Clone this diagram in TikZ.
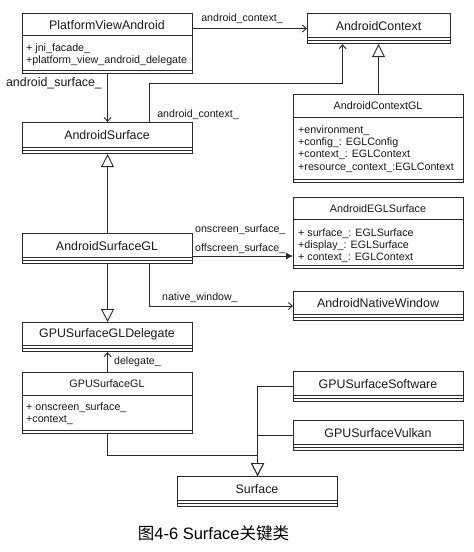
\documentclass[tikz,border=0pt]{standalone}
\usepackage{fontspec}
\setmainfont{Liberation Sans}
\newfontfamily\cjk{Noto Sans CJK SC}
\usetikzlibrary{arrows.meta}
\definecolor{ln}{HTML}{2A2A2A}
\definecolor{tx}{HTML}{1A1A1A}
\begin{document}
\begin{tikzpicture}[x=1pt,y=-1pt,
  cls/.style={draw=ln, line width=1.1pt, inner sep=0pt, anchor=north west, fill=white},
  sep/.style={draw=ln, line width=0.8pt},
  bigt/.style={text=tx, inner sep=0pt, font=\fontsize{12.4}{14}\selectfont},
  smt/.style={text=tx, inner sep=0pt, font=\fontsize{10.8}{13}\selectfont},
  attr/.style={text=tx, inner sep=0pt, anchor=west, align=left, font=\fontsize{10.7}{12.3}\selectfont},
  lbl/.style={text=tx, inner sep=0pt, font=\fontsize{10.6}{12}\selectfont},
  conn/.style={draw=ln, line width=0.9pt},
  assoc/.style={conn, -{Straight Barb[length=4pt,width=7pt,line width=0.9pt]}},
  comp/.style={conn, -{Latex[length=7pt,width=7pt]}},
  inherit/.style={conn, -{Triangle[open,length=13pt,width=13pt,fill=white,line width=0.9pt]}}
]
\useasboundingbox[fill=white] (0,0) rectangle (474,552);

% ---------- class boxes ----------
% PlatformViewAndroid
\node[cls, minimum width=170pt, minimum height=60pt] (pva) at (22,13) {};
\draw[sep] ([yshift=-22pt]pva.north west) -- ([yshift=-22pt]pva.north east);
\draw[sep] ([yshift=4pt]pva.south west) -- ([yshift=4pt]pva.south east);
\node[bigt] (pvat) at (107,25) {PlatformViewAndroid};
\node[attr] (pvaa) at (26,55) {+ jni\_facade\_\\+platform\_view\_android\_delegate};

% AndroidContext
\node[cls, minimum width=143pt, minimum height=30pt] (ac) at (307,13) {};
\draw[sep] ([yshift=7pt]ac.south west) -- ([yshift=7pt]ac.south east);
\draw[sep] ([yshift=3.5pt]ac.south west) -- ([yshift=3.5pt]ac.south east);
\node[bigt] (act) at (378.5,26) {AndroidContext};

% AndroidSurface
\node[cls, minimum width=170pt, minimum height=31pt] (as) at (22,122) {};
\draw[sep] ([yshift=7pt]as.south west) -- ([yshift=7pt]as.south east);
\draw[sep] ([yshift=3.5pt]as.south west) -- ([yshift=3.5pt]as.south east);
\node[bigt] (ast) at (107,135) {AndroidSurface};

% AndroidContextGL
\node[cls, minimum width=170pt, minimum height=88pt] (acgl) at (293,94) {};
\draw[sep] ([yshift=-23pt]acgl.north west) -- ([yshift=-23pt]acgl.north east);
\draw[sep] ([yshift=4pt]acgl.south west) -- ([yshift=4pt]acgl.south east);
\node[smt] (acglt) at (378,106) {AndroidContextGL};
\node[attr] (acgla) at (298,148.8) {+environment\_\\+config\_: EGLConfig\\+context\_: EGLContext\\+resource\_context\_:EGLContext};

% AndroidSurfaceGL
\node[cls, minimum width=170pt, minimum height=30pt] (asgl) at (22,233) {};
\draw[sep] ([yshift=7pt]asgl.south west) -- ([yshift=7pt]asgl.south east);
\draw[sep] ([yshift=3.5pt]asgl.south west) -- ([yshift=3.5pt]asgl.south east);
\node[bigt] (asglt) at (107,246) {AndroidSurfaceGL};

% AndroidEGLSurface
\node[cls, minimum width=170pt, minimum height=71pt] (egl) at (293,197) {};
\draw[sep] ([yshift=-22pt]egl.north west) -- ([yshift=-22pt]egl.north east);
\draw[sep] ([yshift=3.5pt]egl.south west) -- ([yshift=3.5pt]egl.south east);
\node[smt] (eglt) at (378,209) {AndroidEGLSurface};
\node[attr] (egla) at (298,245.5) {+ surface\_: EGLSurface\\+display\_: EGLSurface\\+ context\_: EGLContext};

% AndroidNativeWindow
\node[cls, minimum width=170pt, minimum height=29pt] (anw) at (293,291) {};
\draw[sep] ([yshift=7pt]anw.south west) -- ([yshift=7pt]anw.south east);
\draw[sep] ([yshift=3.5pt]anw.south west) -- ([yshift=3.5pt]anw.south east);
\node[bigt] (anwt) at (378,303) {AndroidNativeWindow};

% GPUSurfaceGLDelegate
\node[cls, minimum width=170pt, minimum height=29pt] (gd) at (22,322) {};
\draw[sep] ([yshift=7pt]gd.south west) -- ([yshift=7pt]gd.south east);
\draw[sep] ([yshift=3.5pt]gd.south west) -- ([yshift=3.5pt]gd.south east);
\node[bigt] (gdt) at (107,334) {GPUSurfaceGLDelegate};

% GPUSurfaceGL
\node[cls, minimum width=170pt, minimum height=61pt] (gsgl) at (22,372) {};
\draw[sep] ([yshift=-23pt]gsgl.north west) -- ([yshift=-23pt]gsgl.north east);
\draw[sep] ([yshift=4pt]gsgl.south west) -- ([yshift=4pt]gsgl.south east);
\node[smt] (gsglt) at (107,384) {GPUSurfaceGL};
\node[attr] (gsgla) at (26,413.5) {+ onscreen\_surface\_\\+context\_};

% GPUSurfaceSoftware
\node[cls, minimum width=170pt, minimum height=30pt] (gss) at (293,371) {};
\draw[sep] ([yshift=7pt]gss.south west) -- ([yshift=7pt]gss.south east);
\draw[sep] ([yshift=3.5pt]gss.south west) -- ([yshift=3.5pt]gss.south east);
\node[bigt] (gsst) at (378,384) {GPUSurfaceSoftware};

% GPUSurfaceVulkan
\node[cls, minimum width=170pt, minimum height=30pt] (gsv) at (293,420) {};
\draw[sep] ([yshift=7pt]gsv.south west) -- ([yshift=7pt]gsv.south east);
\draw[sep] ([yshift=3.5pt]gsv.south west) -- ([yshift=3.5pt]gsv.south east);
\node[bigt] (gsvt) at (378,433) {GPUSurfaceVulkan};

% Surface
\node[cls, minimum width=160pt, minimum height=30pt] (surf) at (177,476) {};
\draw[sep] ([yshift=7pt]surf.south west) -- ([yshift=7pt]surf.south east);
\draw[sep] ([yshift=3.5pt]surf.south west) -- ([yshift=3.5pt]surf.south east);
\node[bigt] (surft) at (257,489) {Surface};

% ---------- connectors ----------
\draw[assoc] (pva.east |- ac.west) -- (ac.west);
\node[lbl] (l1) at (242,19) {android\_context\_};

\draw[assoc] (pva.south) -- (as.north);
\node[text=tx, inner sep=0pt, font=\fontsize{12.4}{14}\selectfont] (l2) at (54,83) {android\_surface\_};

\draw[assoc] ([xshift=42pt]as.north) -- ++(0pt,39pt) -| ([xshift=-36.5pt]ac.south);
\node[lbl] (l3) at (198,115) {android\_context\_};

\draw[inherit] (acgl.north) -- (acgl.north |- ac.south);
\draw[inherit] (asgl.north) -- (as.south);

\draw[comp] ([yshift=-7.5pt]asgl.east) -- ([yshift=-7.5pt]asgl.east -| egl.west);
\node[lbl, anchor=west] (l4) at (195,230) {onscreen\_surface\_};
\node[lbl, anchor=west] (l5) at (195,249) {offscreen\_surface\_};

\draw[assoc] ([xshift=42pt]asgl.south) |- (anw.west);
\node[lbl, anchor=west] (l6) at (162,298) {native\_window\_};

\draw[inherit] (asgl.south) -- (gd.north);

\draw[assoc] (gsgl.north) -- (gd.south);
\node[lbl, anchor=west] (l7) at (114,362) {delegate\_};

\draw[inherit] (gsgl.south) -- ++(0pt,-21pt) -| (surf.north);
\draw[inherit] (gss.west) -| (surf.north);
\draw[inherit] (gsv.west) -| (surf.north);

% ---------- caption ----------
\node[text=black, inner sep=0pt, font=\fontsize{16.5}{18}\selectfont] (cap) at (213.5,533) {{\cjk 图}4-6 Surface{\cjk 关键类}};
\end{tikzpicture}
\end{document}
